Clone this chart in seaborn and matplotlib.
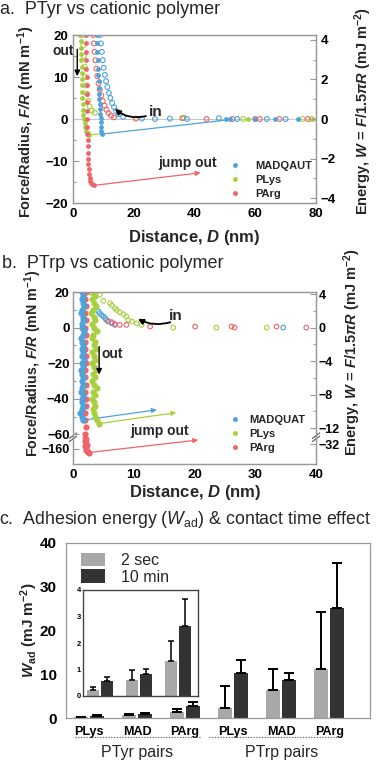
import numpy as np
import pandas as pd
import matplotlib
matplotlib.use("Agg")
import matplotlib.pyplot as plt
import seaborn as sns
from matplotlib.lines import Line2D
from matplotlib.ticker import FixedLocator

sns.set_theme(style="white")
plt.rcParams['font.family'] = ['Liberation Sans', 'DejaVu Sans']
plt.rcParams['font.weight'] = 'bold'
plt.rcParams['mathtext.fontset'] = 'custom'
plt.rcParams['mathtext.rm'] = 'Liberation Sans:weight=normal'
plt.rcParams['mathtext.it'] = 'Liberation Sans:style=italic:weight=normal'
plt.rcParams['mathtext.bf'] = 'Liberation Sans:weight=bold'
plt.rcParams['mathtext.bfit'] = 'Liberation Sans:style=italic:weight=bold'

# ---------------- colours ----------------
C_MAD = '#4ea3dc'
C_PLYS = '#a7cf3f'
C_PARG = '#ef6468'

# ---------------- panel a data (PTyr) ----------------
a_mad_out_D = [7.8, 7.9, 8.0, 8.1, 8.2, 8.3, 8.4, 8.5, 8.6, 8.7, 8.8, 8.9, 9.0, 9.1, 9.2, 9.3, 9.35, 9.4,
               50.5, 51.8, 60.0, 66.5, 74.0]
a_mad_out_F = [20, 18, 16, 14, 12, 10.5, 9, 7.5, 6, 4.7, 3.5, 2.3, 1.2, 0.2, -0.8, -1.8, -2.8, -3.6,
               0, 0, 0, 0, 0]
a_plys_out_D = [2.4, 2.5, 2.6, 2.6, 2.7, 2.8, 2.8, 2.9, 3.0, 3.0, 3.1, 3.2, 3.3, 3.4, 3.6, 3.8, 4.1, 4.4, 4.8, 5.2,
                57.5, 79.0]
a_plys_out_F = [20, 18.5, 17, 15.5, 14, 12.5, 11, 9.5, 8, 6.5, 5, 3.5, 2.2, 1, 0, -1, -2, -2.8, -3.4, -3.8,
                0, 0]
a_parg_out_D = [4.3, 4.3, 4.4, 4.4, 4.4, 4.5, 4.5, 4.5, 4.6, 4.6, 4.6, 4.7, 4.7, 4.8, 4.8, 4.9, 5.0, 5.1, 5.2,
                5.3, 5.5, 5.7, 6.0, 6.4, 7.0]
a_parg_out_F = [20, 18, 16, 14, 12, 10, 8, 6, 4, 2, 0, -2, -3.5, -5, -6.5, -8, -9.5, -10.8, -12,
                -13, -14, -14.7, -15.2, -15.5, -15.8]

a_mad_in_D = [8.9, 9.2, 9.5, 9.8, 10.1, 10.5, 10.9, 11.3, 11.8, 12.3, 12.9, 13.5, 14.2, 15.0, 16.5,
              22.7, 27.0, 31.9, 37.5, 48.0, 54.0, 63.8, 70.0]
a_mad_in_F = [20, 18, 16, 14, 12.2, 10.5, 9, 7.6, 6.2, 5, 3.8, 2.8, 1.9, 1.1, 0.5,
              0.1, 0, 0.1, 0, 0.2, 0, 0, 0]
a_parg_in_D = [6.7, 6.9, 7.1, 7.4, 7.7, 8.0, 8.4, 8.8, 9.3, 9.8, 10.4, 11.0, 11.7, 12.5, 13.5,
               20.7, 36.0, 44.0, 52.5, 60.0, 61.5, 68.0, 77.3]
a_parg_in_F = [20, 18, 16, 14, 12, 10.2, 8.5, 7, 5.6, 4.3, 3.2, 2.2, 1.4, 0.8, 0.4,
               0.1, 0.2, 0, 0, 0, 0, 0, 0]
a_plys_in_D = [3.2, 3.4, 3.6, 3.8, 4.0, 4.3, 4.6, 5.0, 5.5, 6.2, 7.2, 36.5, 56.0, 75.6, 78.5]
a_plys_in_F = [20, 17.5, 15, 12.5, 10, 8, 6, 4.3, 3, 2, 1.5, 0.3, 0, 0, 0]

# jump-out segments (start D, start F, end D, end F)
a_jump_mad = [9.4, -3.6, 50.0, -0.3]
a_jump_plys = [5.2, -3.8, 9.4, -3.5]
a_jump_parg = [7.0, -15.8, 42.0, -12.8]

# ---------------- panel b data (PTrp) ----------------
b_mad_out_F = [20, 18, 16, 14, 12, 10, 8, 6, 4, 2, 0, -2, -4, -6, -8, -10, -12, -14, -16, -18, -20,
               -22, -24, -26, -28, -30, -32, -34, -36, -38, -40, -42, -44, -46, -48, -50, -52]
b_mad_out_D = [1.5, 1.7, 1.4, 1.6, 1.8, 1.5, 1.3, 1.6, 1.7, 1.4, 1.5, 1.8, 1.6, 1.3, 1.5, 1.7, 1.4, 1.6, 1.5, 1.8, 1.4,
               1.6, 1.3, 1.5, 1.7, 1.4, 1.6, 1.5, 1.3, 1.6, 1.4, 1.5, 1.7, 1.4, 1.2, 1.5, 1.7]
b_plys_out_F = [20, 18, 16, 14, 12, 10, 8, 6, 4, 2, 0, -2, -4, -6, -8, -10, -12, -14, -16, -18, -20,
                -22, -24, -26, -28, -30, -32, -34, -36, -38, -40, -42, -44, -46, -48, -50, -52, -54]
b_plys_out_D = [3.3, 3.6, 3.2, 3.5, 3.8, 3.3, 3.0, 3.4, 3.7, 3.2, 3.5, 3.9, 3.3, 3.1, 3.6, 3.4, 3.8, 3.2, 3.5, 3.7, 3.1,
                3.4, 3.8, 3.3, 3.6, 3.2, 3.5, 3.9, 3.3, 3.6, 3.2, 3.4, 3.7, 3.3, 3.5, 3.6, 3.9, 4.2]
b_parg_out_F = [20, 16, 12, 8, 4, 0, -4, -8, -12, -16, -20, -24, -28, -32, -36, -40, -44, -48, -52, -56, -60]
b_parg_out_D = [2.1, 2.0, 2.2, 1.9, 2.1, 2.0, 2.2, 1.9, 2.0, 2.1, 2.2, 2.0, 1.9, 2.1, 2.0, 2.2, 2.1, 1.9, 2.0, 2.1, 2.0]
b_parg_low_F = [-153.5, -154.5, -155.5, -156.5, -157.5, -158.5, -159.5, -160.5, -161.2, -161.8, -162.2]
b_parg_low_D = [2.0, 2.2, 1.9, 2.1, 2.3, 2.0, 2.2, 2.1, 2.3, 2.4, 2.6]

b_mad_in_D = [4.2, 4.4, 4.7, 5.0, 5.3, 5.5, 5.8, 6.4, 6.9, 34.6]
b_mad_in_F = [9.0, 8.0, 7.1, 6.2, 5.2, 4.3, 3.4, 2.4, 1.5, 0.0]
b_plys_in_D = [3.0, 3.6, 4.4, 5.0, 6.1, 6.4, 6.9, 7.2, 7.7, 8.3, 8.8, 9.1, 9.7, 10.5, 11.3, 16.5, 23.6, 31.9]
b_plys_in_F = [19.5, 19.0, 18.5, 15.0, 13.7, 12.4, 10.9, 9.9, 8.6, 7.5, 6.2, 4.3, 3.4, 2.4, 1.5, 0.0, 0.0, 0.0]
b_parg_in_D = [5.8, 6.4, 6.9, 7.7, 8.8, 12.7, 20.1, 26.1, 26.6, 33.5, 38.4]
b_parg_in_F = [3.7, 3.0, 2.0, 1.5, 1.5, 0.6, 0.6, 0.6, 0.0, 0.6, 0.0]

b_jump_mad = [1.7, -52.0, 13.8, -46.2]
b_jump_plys = [4.2, -54.0, 17.0, -47.8]
b_jump_parg = [2.6, -162.0, 20.6, -155.0]

# ---------------- panel c data ----------------
pairs = ["PTyr PLys", "PTyr MAD", "PTyr PArg", "PTrp PLys", "PTrp MAD", "PTrp PArg"]
pair_labels = ["PLys", "MAD", "PArg", "PLys", "MAD", "PArg"]
times = ["2 sec", "10 min"]
w_2sec = [0.23, 0.60, 1.31, 2.4, 6.5, 11.2]
w_10min = [0.55, 0.82, 2.65, 10.4, 8.7, 25.1]
e_2sec = [0.10, 0.39, 0.78, 4.9, 4.7, 13.1]
e_10min = [0.17, 0.21, 1.00, 2.8, 1.7, 10.3]

CONV = 1.5 * np.pi  # F/R -> W

# ---------------- figure ----------------
W, H = 380, 761
fig = plt.figure(figsize=(W / 100, H / 100), dpi=100)


def rect(l, t, r, b):
    return [l / W, 1 - b / H, (r - l) / W, (b - t) / H]


def ftext(x, y, s, **kw):
    fig.text(x / W, 1 - y / H, s, **kw)


SPINE = '#9a9a9a'


def style(ax, size=9.5):
    for sp in ax.spines.values():
        sp.set_color(SPINE)
        sp.set_linewidth(0.9)
    ax.tick_params(which='both', direction='in', colors=SPINE, labelcolor='black',
                   labelsize=size, width=0.8)
    ax.tick_params(which='major', length=4)
    ax.tick_params(which='minor', length=2.5)
    for lbl in ax.get_xticklabels() + ax.get_yticklabels():
        lbl.set_fontweight('bold')


def filled(ax, D, F, color, s=10):
    sns.scatterplot(x=D, y=F, ax=ax, color=color, s=s, linewidth=0, zorder=3, legend=False)


def hollow(ax, D, F, color, s=12):
    sns.scatterplot(x=D, y=F, ax=ax, facecolor='none', edgecolor=color, s=s,
                    linewidth=0.8, zorder=3, legend=False)


def jump(ax, seg, color, head=True):
    ax.annotate('', xy=(seg[2], seg[3]), xytext=(seg[0], seg[1]),
                arrowprops=dict(arrowstyle='-|>' if head else '-', color=color, lw=0.9,
                                mutation_scale=7, shrinkA=0, shrinkB=0), zorder=2)


# ======== panel a ========
ftext(0, 9, 'a.  PTyr vs cationic polymer', fontsize=13, fontweight='normal', va='center')
ax = fig.add_axes(rect(73, 35, 316, 203))
ax.axhline(0, color='#c8c8c8', lw=0.8, zorder=1)
jump(ax, a_jump_mad, C_MAD, head=False)
jump(ax, a_jump_plys, C_PLYS, head=False)
jump(ax, a_jump_parg, C_PARG)
hollow(ax, a_plys_in_D, a_plys_in_F, C_PLYS)
hollow(ax, a_parg_in_D, a_parg_in_F, C_PARG)
hollow(ax, a_mad_in_D, a_mad_in_F, C_MAD)
filled(ax, a_plys_out_D, a_plys_out_F, C_PLYS, s=12)
filled(ax, a_mad_out_D, a_mad_out_F, C_MAD, s=12)
filled(ax, a_parg_out_D, a_parg_out_F, C_PARG, s=12)
ax.set_xlim(0, 80)
ax.set_ylim(-20, 20)
ax.set_xticks([0, 20, 40, 60, 80])
ax.xaxis.set_minor_locator(FixedLocator([10, 30, 50, 70]))
ax.set_yticks([-20, -10, 0, 10, 20])
ax.yaxis.set_minor_locator(FixedLocator([-15, -5, 5, 15]))
ax.set_xlabel(r'Distance, $\mathbfit{D}$ (nm)', fontsize=12, fontweight='bold')
ax.xaxis.set_label_coords(0.5, -0.15)
ax.set_ylabel(r'Force/Radius, $\mathbfit{F/R}$ (mN m$^{\mathbf{-1}}$)', fontsize=10.5, fontweight='bold')
ax.yaxis.set_label_coords(-0.15, 0.48)
style(ax)
ax2 = ax.twinx()
ax2.set_ylim(-20 / CONV, 20 / CONV)
ax2.set_yticks([-4, -2, 0, 2, 4])
ax2.yaxis.set_minor_locator(FixedLocator([-3, -1, 1, 3]))
ax2.set_ylabel(r'Energy, $\mathbfit{W}$ = $\mathbfit{F}$/1.5$\mathbfit{\pi R}$ (mJ m$^{\mathbf{-2}}$)',
               fontsize=10.5, fontweight='bold')
ax2.yaxis.set_label_coords(1.15, 0.55)
style(ax2)
ax.annotate('', xy=(1.4, 10.2), xytext=(1.4, 16.6),
            arrowprops=dict(arrowstyle='-|>', color='black', lw=1.0, mutation_scale=8, shrinkA=0, shrinkB=0))
ax.text(-6.6, 16.3, 'out', fontsize=10, fontweight='bold', va='center', ha='left', clip_on=False)
ax.annotate('', xy=(13.8, 2.4), xytext=(24.0, 0.7),
            arrowprops=dict(arrowstyle='-|>', color='black', lw=1.3, mutation_scale=8,
                            connectionstyle='arc3,rad=-0.25', shrinkA=0, shrinkB=0))
ax.text(25.0, 1.7, 'in', fontsize=11, fontweight='bold', va='center', ha='left')
ax.text(28.0, -10.4, 'jump out', fontsize=10, fontweight='bold', va='center', ha='left')
hdl = [Line2D([], [], marker='o', ls='', color=c, markersize=3.5, markeredgewidth=0)
       for c in (C_MAD, C_PLYS, C_PARG)]
ax.legend(hdl, ['MADQAUT', 'PLys', 'PArg'], loc='upper left', bbox_to_anchor=(0.645, 0.25),
          frameon=False, handlelength=1.0, handletextpad=1.3, labelspacing=0.35,
          borderpad=0, borderaxespad=0, prop=dict(weight='bold', size=8))

# ======== panel b ========
ftext(2, 263, 'b.  PTrp vs cationic polymer', fontsize=13, fontweight='normal', va='center')
axu = fig.add_axes(rect(73, 292, 316, 437))
axl = fig.add_axes(rect(73, 437, 316, 464), sharex=axu)
axl.patch.set_visible(False)
axu.set_zorder(2)
axl.set_zorder(1)
axu.patch.set_visible(False)
jump(axu, b_jump_mad, C_MAD)
jump(axu, b_jump_plys, C_PLYS)
jump(axl, b_jump_parg, C_PARG)
hollow(axu, b_mad_in_D, b_mad_in_F, C_MAD, s=11)
hollow(axu, b_plys_in_D, b_plys_in_F, C_PLYS, s=11)
hollow(axu, b_parg_in_D, b_parg_in_F, C_PARG, s=11)
filled(axu, b_parg_out_D, b_parg_out_F, C_PARG, s=20)
filled(axu, b_plys_out_D, b_plys_out_F, C_PLYS, s=20)
filled(axu, b_mad_out_D, b_mad_out_F, C_MAD, s=20)
filled(axl, b_parg_low_D, b_parg_low_F, C_PARG, s=20)
axu.set_xlim(0, 40)
axu.set_ylim(-61.5, 20)
axl.set_ylim(-168.4, -153.3)
axu.set_yticks([-60, -40, -20, 0, 20])
axu.yaxis.set_minor_locator(FixedLocator([-50, -30, -10, 10]))
axl.set_yticks([-160])
axl.set_xticks([0, 10, 20, 30, 40])
axl.xaxis.set_minor_locator(FixedLocator([5, 15, 25, 35]))
axu.spines['bottom'].set_visible(False)
axl.spines['top'].set_visible(False)
for a_ in (axu, axl):
    a_.set_xlabel('')
    a_.set_ylabel('')
style(axu)
style(axl)
axu.tick_params(axis='x', which='both', bottom=False, labelbottom=False)
axu.tick_params(axis='y', pad=2.5)
axl.tick_params(axis='y', pad=2.5, labelsize=9)
axu2 = axu.twinx()
axu2.set_ylim(-61.5 / CONV, 20 / CONV)
axu2.set_yticks([-12, -8, -4, 0, 4])
axu2.yaxis.set_minor_locator(FixedLocator([-10, -6, -2, 2]))
axl2 = axl.twinx()
axl2.set_ylim(-35.5, -30.7)
axl2.set_yticks([-32])
axu2.spines['bottom'].set_visible(False)
axl2.spines['top'].set_visible(False)
style(axu2, 9)
style(axl2, 9)
axu2.tick_params(axis='y', pad=2)
axl2.tick_params(axis='y', pad=2)
# break marks
for xx in (0, 1):
    for y0 in (0.83, 0.95):
        axl.plot([xx - 0.015, xx + 0.015], [y0, y0 + 0.2], transform=axl.transAxes, color='#555555',
                 lw=0.8, clip_on=False, zorder=5)
ftext(195, 492, r'Distance, $\mathbfit{D}$ (nm)', fontsize=12, fontweight='bold', ha='center', va='center')
ftext(33, 363, r'Force/Radius, $\mathbfit{F/R}$ (mN m$^{\mathbf{-1}}$)', fontsize=10.3, fontweight='bold',
      rotation=90, ha='center', va='center')
ftext(352, 352, r'Energy, $\mathbfit{W}$ = $\mathbfit{F}$/1.5$\mathbfit{\pi R}$ (mJ m$^{\mathbf{-2}}$)',
      fontsize=10.5, fontweight='bold', rotation=90, ha='center', va='center')
axu.annotate('', xy=(4.3, -26.4), xytext=(4.3, -10.7),
             arrowprops=dict(arrowstyle='-|>', color='black', lw=1.0, mutation_scale=8, shrinkA=0, shrinkB=0))
axu.text(4.7, -15.0, 'out', fontsize=10, fontweight='bold', va='center', ha='left')
axu.annotate('', xy=(10.7, 4.9), xytext=(16.0, 3.0),
             arrowprops=dict(arrowstyle='-|>', color='black', lw=1.3, mutation_scale=8,
                             connectionstyle='arc3,rad=-0.2', shrinkA=0, shrinkB=0))
axu.text(15.8, 6.6, 'in', fontsize=11, fontweight='bold', va='center', ha='left')
axu.text(9.4, -58.0, 'jump out', fontsize=10, fontweight='bold', va='center', ha='left', clip_on=False)
axu.legend(hdl, ['MADQUAT', 'PLys', 'PArg'], loc='upper left', bbox_to_anchor=(0.645, 0.15),
           frameon=False, handlelength=1.0, handletextpad=0.8, labelspacing=0.35,
           borderpad=0, borderaxespad=0, prop=dict(weight='bold', size=8))

# ======== panel c ========
ftext(-1, 520, r'c.  Adhesion energy ($\mathit{W}_{\mathrm{ad}}$) & contact time effect',
      fontsize=12.8, fontweight='normal', va='center')
df = pd.DataFrame({"pair": pairs * 2, "time": [times[0]] * 6 + [times[1]] * 6,
                   "W": w_2sec + w_10min, "err": e_2sec + e_10min})
pal = {times[0]: '#a8a8a8', times[1]: '#333333'}


def bars(ax, d, width, gap, capsize, elw):
    order = list(dict.fromkeys(d['pair']))
    sns.barplot(data=d, x='pair', y='W', hue='time', hue_order=times, order=order, palette=pal,
                width=width, gap=gap, errorbar=None, saturation=1, ax=ax, linewidth=0)
    conts = list(ax.containers)
    for cont, t in zip(conts, times):
        sub = d[d['time'] == t]
        xs = [p.get_x() + p.get_width() / 2 for p in cont.patches]
        ax.errorbar(xs, sub['W'].values, yerr=[np.zeros(len(sub)), sub['err'].values], fmt='none',
                    ecolor='black', elinewidth=elw, capsize=capsize, capthick=elw, zorder=1)


axc = fig.add_axes(rect(66, 543, 370, 718))
bars(axc, df, 0.66, 0.1, 3.5, 1.4)
axc.set_xlim(-0.48, 5.85)
axc.set_ylim(0, 40)
axc.set_yticks([0, 10, 20, 30, 40])
axc.set_xticks(range(6))
axc.set_xticklabels(pair_labels)
axc.set_xlabel('')
axc.set_ylabel(r'$\mathbfit{W}_{\mathbf{ad}}$ (mJ m$^{\mathbf{-2}}$)', fontsize=11, fontweight='bold')
axc.yaxis.set_label_coords(-0.085, 0.5)
style(axc, 11)
axc.tick_params(axis='x', length=0, labelsize=9, pad=6)
axc.tick_params(axis='y', direction='out', length=3)
hh, ll = axc.get_legend_handles_labels()
axc.legend(hh, ll, loc='upper left', bbox_to_anchor=(0.05, 0.945), frameon=False,
           handlelength=1.5, handleheight=0.9, handletextpad=1.0, labelspacing=0.1,
           borderpad=0, borderaxespad=0, prop=dict(weight='normal', size=11.5))
bt = axc.get_xaxis_transform()
axc.plot([-0.29, 2.31], [-0.108, -0.108], transform=bt, color='#666666', lw=0.9, ls=(0, (1, 1.2)), clip_on=False)
axc.plot([2.5, 5.2], [-0.108, -0.108], transform=bt, color='#666666', lw=0.9, ls=(0, (1, 1.2)), clip_on=False)
axc.text(1.0, -0.195, 'PTyr pairs', transform=bt, ha='center', va='center', fontsize=11.5, fontweight='normal')
axc.text(4.0, -0.195, 'PTrp pairs', transform=bt, ha='center', va='center', fontsize=11.5, fontweight='normal')

axi = fig.add_axes(rect(83, 590, 198, 696))
bars(axi, df[df['pair'].isin(pairs[:3])], 0.7, 0.1, 2.5, 1.1)
leg = axi.get_legend()
if leg is not None:
    leg.remove()
axi.set_xlim(-0.44, 2.51)
axi.set_ylim(0, 4)
axi.set_yticks([0, 1, 2, 3, 4])
axi.set_xticks([])
axi.set_xlabel('')
axi.set_ylabel('')
style(axi, 5.5)
for sp in axi.spines.values():
    sp.set_color('#444444')
    sp.set_linewidth(1.0)
axi.tick_params(axis='y', length=2, pad=1.5)

fig.savefig('out.png', dpi=100)
